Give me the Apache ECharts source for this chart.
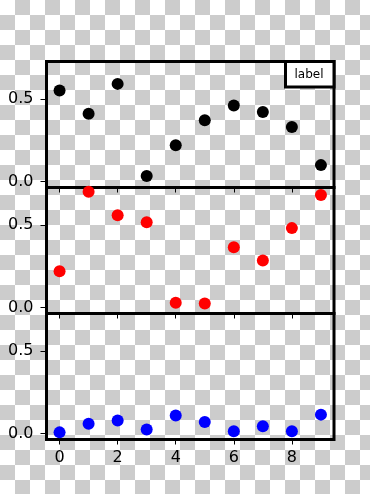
<!DOCTYPE html>
<html>
<head>
<meta charset="utf-8">
<style>
html, body { margin: 0; padding: 0; }
body {
  width: 370px; height: 494px; overflow: hidden;
  background: repeating-conic-gradient(#cccccc 0% 25%, #ffffff 0% 50%) 0 0 / 30px 30px;
}
#chart { width: 370px; height: 494px; }
</style>
<script src="https://cdn.jsdelivr.net/npm/echarts@6/dist/echarts.min.js"></script>
</head>
<body>
<div id="chart"></div>
<script>
var xValues = [0, 1, 2, 3, 4, 5, 6, 7, 8, 9];
var blackValues = [0.55, 0.41, 0.59, 0.035, 0.22, 0.37, 0.46, 0.42, 0.33, 0.10];
var redValues = [0.22, 0.70, 0.557, 0.515, 0.03, 0.025, 0.365, 0.285, 0.48, 0.68];
var blueValues = [0.008, 0.06, 0.08, 0.025, 0.11, 0.07, 0.015, 0.045, 0.015, 0.115];
var xTicks = [0, 2, 4, 6, 8];
var yTicks = [0, 0.5];
var legendText = 'label';

var FONT = 'DejaVu Sans';
var panels = [
  { values: blackValues, color: '#000000' },
  { values: redValues, color: '#ff0000' },
  { values: blueValues, color: '#0000ff' }
];
var left = 46.5, width = 287.5, top0 = 61.5, h = 126;

var grids = [], xAxes = [], yAxes = [], series = [];
panels.forEach(function (p, i) {
  grids.push({
    left: left, top: top0 + i * h, width: width, height: h,
    show: true, borderColor: '#000', borderWidth: 3, backgroundColor: 'transparent'
  });
  xAxes.push({
    type: 'value', gridIndex: i, min: -0.45, max: 9.45, position: 'bottom',
    axisLine: { show: false, onZero: false },
    splitLine: { show: false },
    axisTick: { show: true, length: 5, lineStyle: { color: '#000', width: 1 }, customValues: xTicks },
    axisLabel: {
      show: i === 2, customValues: xTicks, margin: 10,
      color: '#000', fontFamily: FONT, fontSize: 16
    }
  });
  yAxes.push({
    type: 'value', gridIndex: i, min: -0.035, max: 0.725, position: 'left',
    axisLine: { show: false, onZero: false },
    splitLine: { show: false },
    axisTick: { show: true, length: 6, lineStyle: { color: '#000', width: 1 }, customValues: yTicks },
    axisLabel: {
      show: true, customValues: yTicks, margin: 13,
      color: '#000', fontFamily: FONT, fontSize: 16,
      formatter: function (v) { return v.toFixed(1); }
    }
  });
  series.push({
    type: 'scatter', xAxisIndex: i, yAxisIndex: i,
    symbol: 'circle', symbolSize: 12,
    itemStyle: { color: p.color, opacity: 1 },
    data: xValues.map(function (x, k) { return [x, p.values[k]]; }),
    silent: true, animation: false
  });
});

var chart = echarts.init(document.getElementById('chart'), null, { renderer: 'canvas' });
chart.setOption({
  backgroundColor: 'transparent',
  animation: false,
  grid: grids,
  xAxis: xAxes,
  yAxis: yAxes,
  series: series,
  graphic: [
    {
      type: 'rect', z: 100,
      shape: { x: 285.5, y: 61.5, width: 48.5, height: 25.5 },
      style: { fill: '#ffffff', stroke: '#000', lineWidth: 3 }
    },
    {
      type: 'text', z: 101, x: 309, y: 74.5,
      style: { text: legendText, fontFamily: FONT, fontSize: 12, fill: '#000', align: 'center', verticalAlign: 'middle' }
    }
  ]
});
</script>
</body>
</html>
